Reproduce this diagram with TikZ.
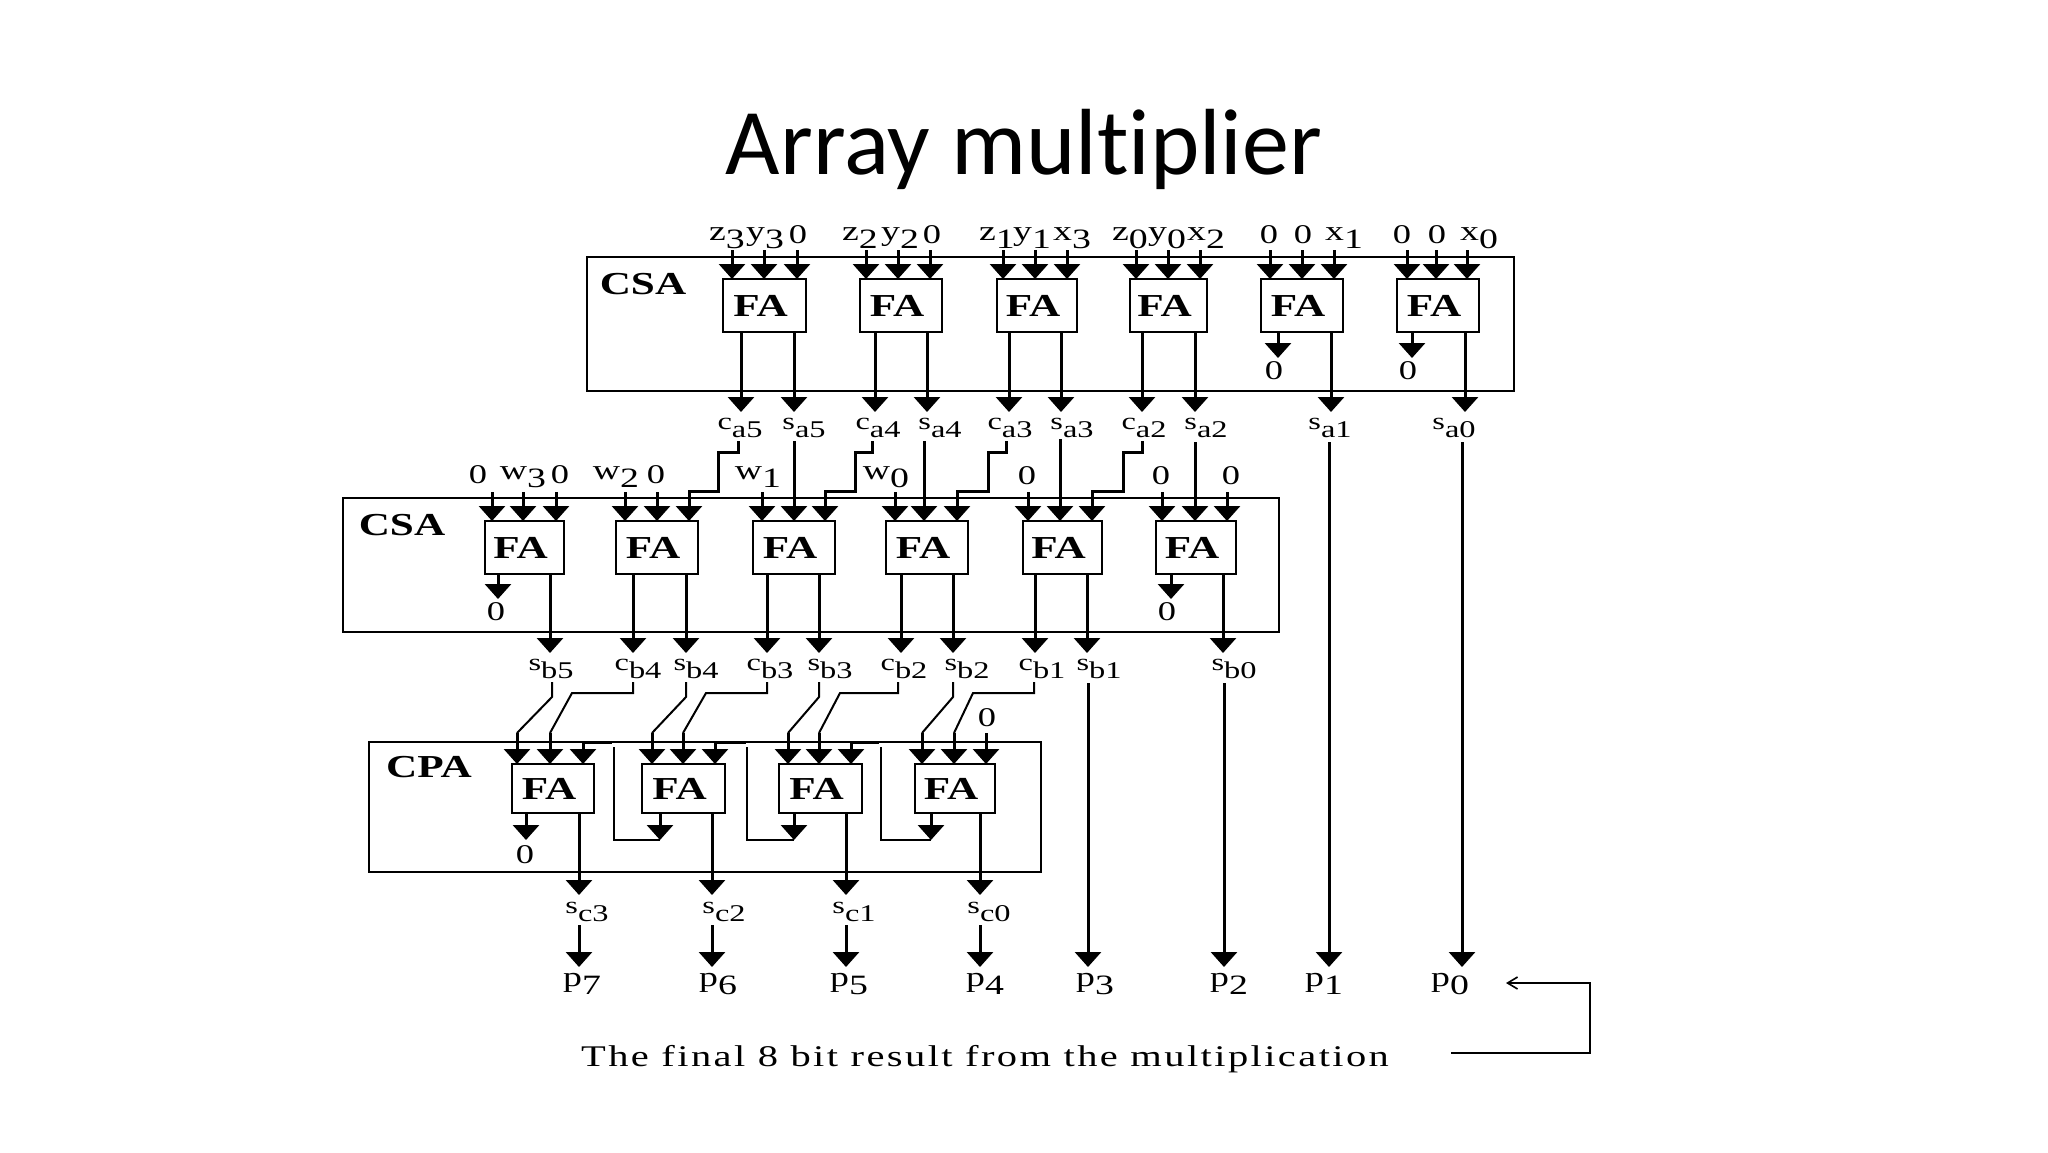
\documentclass[tikz,border=0pt]{standalone}
\usepackage{fontspec}
\setmainfont[Ligatures=NoCommon]{Carlito}
\newfontfamily\bmpserif[FakeStretch=1.35]{Liberation Serif}
\newfontfamily\bmpnote[FakeStretch=1.35,LetterSpace=8]{Liberation Serif}
\usepackage{tikz}
\usetikzlibrary{positioning,arrows.meta}
\newcommand{\sublbl}[2]{#1\raisebox{-4pt}{#2}}
\newcommand{\fatxt}{FA\kern4pt}

\begin{document}
\begin{tikzpicture}[x=0.5pt, y=-0.5pt, font=\bmpserif,
  fa/.style={draw, line width=1.1pt, minimum height=26.5pt, inner sep=0pt, outer sep=0pt, font=\bmpserif\bfseries\fontsize{16}{16}\selectfont},
  frame/.style={draw, line width=1.1pt},
  blockname/.style={inner sep=0pt, font=\bmpserif\bfseries\fontsize{16}{16}\selectfont},
  lbl/.style={inner sep=0pt, font=\bmpserif\fontsize{12}{12}\selectfont},
  lblbig/.style={inner sep=0pt, font=\bmpserif\fontsize{14}{14}\selectfont},
  zr/.style={inner sep=0pt, font=\bmpserif\fontsize{13.5}{13.5}\selectfont},
  arr/.style={-{Triangle[width=13pt,length=7.5pt]}, line width=1.5pt},
  wire/.style={line width=1pt},
  backarr/.style={-{Straight Barb[length=5pt,width=6pt]}, line width=0.8pt}]
\useasboundingbox (0,0) rectangle (2048,1152);
\node[font=\fontsize{47}{47}\selectfont, inner sep=0pt] (title) at (1024,149) {Array multiplier};
% first CSA row
\draw[frame] (587,257) rectangle (1514,391);
\node[blockname] (csa1) at (643,284) {CSA};
\node[fa, anchor=north west, minimum width=41.5pt] (f11) at (723,279) {\fatxt};
\node[fa, right=27pt of f11, minimum width=41pt] (f12) {\fatxt};
\node[fa, right=27.5pt of f12, minimum width=40pt] (f13) {\fatxt};
\node[fa, right=26.5pt of f13, minimum width=38.5pt] (f14) {\fatxt};
\node[fa, right=27pt of f14, minimum width=41pt] (f15) {\fatxt};
\node[fa, right=27pt of f15, minimum width=41pt] (f16) {\fatxt};
% inputs of the first row
\node[lblbig] (z3) at (727,238) {\sublbl{z}{3}};
\node[lblbig] (y3) at (765,238) {\sublbl{y}{3}};
\node[zr] (n11) at (798,235) {0};
\node[lblbig] (z2) at (860,238) {\sublbl{z}{2}};
\node[lblbig] (y2) at (900,238) {\sublbl{y}{2}};
\node[zr] (n12) at (932,235) {0};
\node[lblbig] (z1) at (997,238) {\sublbl{z}{1}};
\node[lblbig] (y1) at (1032,238) {\sublbl{y}{1}};
\node[lblbig] (x3) at (1072,238) {\sublbl{x}{3}};
\node[lblbig] (z0) at (1130,238) {\sublbl{z}{0}};
\node[lblbig] (y0) at (1167,238) {\sublbl{y}{0}};
\node[lblbig] (x2) at (1206,238) {\sublbl{x}{2}};
\node[zr] (n13) at (1269,235) {0};
\node[zr] (n14) at (1303,235) {0};
\node[lblbig] (x1) at (1344,238) {\sublbl{x}{1}};
\node[zr] (n15) at (1402,235) {0};
\node[zr] (n16) at (1437,235) {0};
\node[lblbig] (x0) at (1479,238) {\sublbl{x}{0}};
\coordinate (t11a) at (732,250); \coordinate (t11b) at (764,250); \coordinate (t11c) at (797,250);
\coordinate (t12a) at (866,250); \coordinate (t12b) at (898,250); \coordinate (t12c) at (930,250);
\coordinate (t13a) at (1003,250); \coordinate (t13b) at (1035,250); \coordinate (t13c) at (1067,250);
\coordinate (t14a) at (1136,250); \coordinate (t14b) at (1168,250); \coordinate (t14c) at (1200,250);
\coordinate (t15a) at (1270,250); \coordinate (t15b) at (1302,250); \coordinate (t15c) at (1334,250);
\coordinate (t16a) at (1407,250); \coordinate (t16b) at (1436,250); \coordinate (t16c) at (1467,250);
\draw[arr] (t11a) -- (t11a |- f11.north); \draw[arr] (t11b) -- (t11b |- f11.north); \draw[arr] (t11c) -- (t11c |- f11.north);
\draw[arr] (t12a) -- (t12a |- f12.north); \draw[arr] (t12b) -- (t12b |- f12.north); \draw[arr] (t12c) -- (t12c |- f12.north);
\draw[arr] (t13a) -- (t13a |- f13.north); \draw[arr] (t13b) -- (t13b |- f13.north); \draw[arr] (t13c) -- (t13c |- f13.north);
\draw[arr] (t14a) -- (t14a |- f14.north); \draw[arr] (t14b) -- (t14b |- f14.north); \draw[arr] (t14c) -- (t14c |- f14.north);
\draw[arr] (t15a) -- (t15a |- f15.north); \draw[arr] (t15b) -- (t15b |- f15.north); \draw[arr] (t15c) -- (t15c |- f15.north);
\draw[arr] (t16a) -- (t16a |- f16.north); \draw[arr] (t16b) -- (t16b |- f16.north); \draw[arr] (t16c) -- (t16c |- f16.north);
% outputs of the first row
\coordinate (o11a) at (741,412); \coordinate (o11b) at (794,412);
\coordinate (o12a) at (875,412); \coordinate (o12b) at (927,412);
\coordinate (o13a) at (1009,412); \coordinate (o13b) at (1061,412);
\coordinate (o14a) at (1142,412); \coordinate (o14b) at (1195,412);
\coordinate (o15a) at (1278,358); \coordinate (o15b) at (1331,412);
\coordinate (o16a) at (1412,358); \coordinate (o16b) at (1465,412);
\draw[arr] (o11a |- f11.south) -- (o11a); \draw[arr] (o11b |- f11.south) -- (o11b);
\draw[arr] (o12a |- f12.south) -- (o12a); \draw[arr] (o12b |- f12.south) -- (o12b);
\draw[arr] (o13a |- f13.south) -- (o13a); \draw[arr] (o13b |- f13.south) -- (o13b);
\draw[arr] (o14a |- f14.south) -- (o14a); \draw[arr] (o14b |- f14.south) -- (o14b);
\draw[arr] (o15a |- f15.south) -- (o15a); \draw[arr] (o15b |- f15.south) -- (o15b);
\draw[arr] (o16a |- f16.south) -- (o16a); \draw[arr] (o16b |- f16.south) -- (o16b);
\node[zr] (n17) at (1274,371) {0};
\node[zr] (n18) at (1408,371) {0};
\node[lbl] (ca5) at (740,428) {\sublbl{c}{a5}};
\node[lbl] (sa5) at (804,428) {\sublbl{s}{a5}};
\node[lbl] (ca4) at (878,428) {\sublbl{c}{a4}};
\node[lbl] (sa4) at (940,428) {\sublbl{s}{a4}};
\node[lbl] (ca3) at (1010,428) {\sublbl{c}{a3}};
\node[lbl] (sa3) at (1072,428) {\sublbl{s}{a3}};
\node[lbl] (ca2) at (1144,428) {\sublbl{c}{a2}};
\node[lbl] (sa2) at (1206,428) {\sublbl{s}{a2}};
\node[lbl] (sa1) at (1330,428) {\sublbl{s}{a1}};
\node[lbl] (sa0) at (1454,428) {\sublbl{s}{a0}};
% second CSA row
\draw[frame] (343,498) rectangle (1279,632);
\node[blockname] (csa2) at (402,525) {CSA};
\node[fa, anchor=north west, minimum width=39.5pt] (f21) at (485,521) {\fatxt};
\node[fa, right=26pt of f21, minimum width=41pt] (f22) {\fatxt};
\node[fa, right=27.5pt of f22, minimum width=41pt] (f23) {\fatxt};
\node[fa, right=25.5pt of f23, minimum width=41pt] (f24) {\fatxt};
\node[fa, right=27.5pt of f24, minimum width=39.5pt] (f25) {\fatxt};
\node[fa, right=27pt of f25, minimum width=40pt] (f26) {\fatxt};
\node[zr] (n21) at (478,475) {0};
\node[lblbig] (w3) at (523,477) {\sublbl{w}{3}};
\node[zr] (n22) at (560,475) {0};
\node[lblbig] (w2) at (616,477) {\sublbl{w}{2}};
\node[zr] (n23) at (656,475) {0};
\node[lblbig] (w1) at (758,477) {\sublbl{w}{1}};
\node[lblbig] (w0) at (886,477) {\sublbl{w}{0}};
\node[zr] (n24) at (1027,476) {0};
\node[zr] (n25) at (1161,476) {0};
\node[zr] (n26) at (1231,476) {0};
\coordinate (t21a) at (492,492); \coordinate (t21b) at (523,492); \coordinate (t21c) at (556,492);
\coordinate (t22a) at (625,492); \coordinate (t22b) at (657,492); \coordinate (t22c) at (689,491);
\coordinate (t23a) at (762,492); \coordinate (t23c) at (825,491);
\coordinate (t24a) at (895,492); \coordinate (t24c) at (957,491);
\coordinate (t25a) at (1028,492); \coordinate (t25c) at (1092,491);
\coordinate (t26a) at (1162,492); \coordinate (t26c) at (1227,492);
\draw[arr] (t21a) -- (t21a |- f21.north); \draw[arr] (t21b) -- (t21b |- f21.north); \draw[arr] (t21c) -- (t21c |- f21.north);
\draw[arr] (t22a) -- (t22a |- f22.north); \draw[arr] (t22b) -- (t22b |- f22.north);
\draw[arr] (t23a) -- (t23a |- f23.north);
\draw[arr] (t24a) -- (t24a |- f24.north);
\draw[arr] (t25a) -- (t25a |- f25.north);
\draw[arr] (t26a) -- (t26a |- f26.north); \draw[arr] (t26c) -- (t26c |- f26.north);
% carries and sums from the first row
\coordinate (wca5) at (738,441); \coordinate (wca4) at (872,441); \coordinate (wca3) at (1006,441); \coordinate (wca2) at (1142,441);
\coordinate (wsa5) at (794,441); \coordinate (wsa4) at (924,441); \coordinate (wsa3) at (1060,439); \coordinate (wsa2) at (1195,442);
\draw[arr] (wca5) -- ++(0,11) -- ++(-20,0) -- ++(0,39) -- (t22c) -- (t22c |- f22.north);
\draw[arr] (wca4) -- ++(0,11) -- ++(-17,0) -- ++(0,39) -- (t23c) -- (t23c |- f23.north);
\draw[arr] (wca3) -- ++(0,11) -- ++(-18,0) -- ++(0,39) -- (t24c) -- (t24c |- f24.north);
\draw[arr] (wca2) -- ++(0,11) -- ++(-19,0) -- ++(0,39) -- (t25c) -- (t25c |- f25.north);
\draw[arr] (wsa5) -- (wsa5 |- f23.north);
\draw[arr] (wsa4) -- (wsa4 |- f24.north);
\draw[arr] (wsa3) -- (wsa3 |- f25.north);
\draw[arr] (wsa2) -- (wsa2 |- f26.north);
% outputs of the second row
\coordinate (o21a) at (498,599); \coordinate (o21b) at (550,653);
\coordinate (o22a) at (633,653); \coordinate (o22b) at (686,653);
\coordinate (o23a) at (767,653); \coordinate (o23b) at (819,653);
\coordinate (o24a) at (901,653); \coordinate (o24b) at (953,653);
\coordinate (o25a) at (1035,653); \coordinate (o25b) at (1087,653);
\coordinate (o26a) at (1171,599); \coordinate (o26b) at (1223,653);
\draw[arr] (o21a |- f21.south) -- (o21a); \draw[arr] (o21b |- f21.south) -- (o21b);
\draw[arr] (o22a |- f22.south) -- (o22a); \draw[arr] (o22b |- f22.south) -- (o22b);
\draw[arr] (o23a |- f23.south) -- (o23a); \draw[arr] (o23b |- f23.south) -- (o23b);
\draw[arr] (o24a |- f24.south) -- (o24a); \draw[arr] (o24b |- f24.south) -- (o24b);
\draw[arr] (o25a |- f25.south) -- (o25a); \draw[arr] (o25b |- f25.south) -- (o25b);
\draw[arr] (o26a |- f26.south) -- (o26a); \draw[arr] (o26b |- f26.south) -- (o26b);
\node[zr] (n27) at (496,612) {0};
\node[zr] (n28) at (1167,612) {0};
\node[lbl] (sb5) at (551,669) {\sublbl{s}{b5}};
\node[lbl] (cb4) at (638,669) {\sublbl{c}{b4}};
\node[lbl] (sb4) at (696,669) {\sublbl{s}{b4}};
\node[lbl] (cb3) at (770,669) {\sublbl{c}{b3}};
\node[lbl] (sb3) at (830,669) {\sublbl{s}{b3}};
\node[lbl] (cb2) at (904,669) {\sublbl{c}{b2}};
\node[lbl] (sb2) at (967,669) {\sublbl{s}{b2}};
\node[lbl] (cb1) at (1042,669) {\sublbl{c}{b1}};
\node[lbl] (sb1) at (1099,669) {\sublbl{s}{b1}};
\node[lbl] (sb0) at (1234,669) {\sublbl{s}{b0}};
% CPA row
\draw[frame] (369,742) rectangle (1041,872);
\node[blockname] (cpa) at (429,767) {CPA};
\node[fa, anchor=north west, minimum width=41pt, minimum height=24.5pt] (f31) at (512,764) {\fatxt};
\node[fa, right=24pt of f31, minimum width=41.5pt, minimum height=24.5pt] (f32) {\fatxt};
\node[fa, right=27pt of f32, minimum width=41.5pt, minimum height=24.5pt] (f33) {\fatxt};
\node[fa, right=26.5pt of f33, minimum width=40pt, minimum height=24.5pt] (f34) {\fatxt};
\node[zr] (n31) at (987,718) {0};
\coordinate (t31a) at (517,733); \coordinate (t31b) at (550,733); \coordinate (t31c) at (583,743);
\coordinate (t32a) at (652,733); \coordinate (t32b) at (683,733); \coordinate (t32c) at (715,743);
\coordinate (t33a) at (788,733); \coordinate (t33b) at (819,733); \coordinate (t33c) at (851,743);
\coordinate (t34a) at (922,733); \coordinate (t34b) at (954,733); \coordinate (t34c) at (986,733);
\draw[arr] (t31a) -- (t31a |- f31.north); \draw[arr] (t31b) -- (t31b |- f31.north); \draw[arr] (t31c) -- (t31c |- f31.north);
\draw[arr] (t32a) -- (t32a |- f32.north); \draw[arr] (t32b) -- (t32b |- f32.north); \draw[arr] (t32c) -- (t32c |- f32.north);
\draw[arr] (t33a) -- (t33a |- f33.north); \draw[arr] (t33b) -- (t33b |- f33.north); \draw[arr] (t33c) -- (t33c |- f33.north);
\draw[arr] (t34a) -- (t34a |- f34.north); \draw[arr] (t34b) -- (t34b |- f34.north); \draw[arr] (t34c) -- (t34c |- f34.north);
% sums and carries from the second row
\coordinate (wsb5) at (552,682); \coordinate (wcb4) at (633,682); \coordinate (wsb4) at (686,682); \coordinate (wcb3) at (767,682);
\coordinate (wsb3) at (819,682); \coordinate (wcb2) at (898,682); \coordinate (wsb2) at (953,682); \coordinate (wcb1) at (1034,682);
\draw[wire] (wsb5) -- ++(0,15) -- (t31a);
\draw[wire] (wcb4) -- ++(0,11) -- ++(-61,0) -- (t31b);
\draw[wire] (wsb4) -- ++(0,15) -- (t32a);
\draw[wire] (wcb3) -- ++(0,11) -- ++(-61,0) -- (t32b);
\draw[wire] (wsb3) -- ++(0,15) -- (t33a);
\draw[wire] (wcb2) -- ++(0,11) -- ++(-58,0) -- (t33b);
\draw[wire] (wsb2) -- ++(0,15) -- (t34a);
\draw[wire] (wcb1) -- ++(0,11) -- ++(-61,0) -- (t34b);
% carry chain of the CPA
\coordinate (o31a) at (526,840); \coordinate (o32a) at (660,840); \coordinate (o33a) at (794,840); \coordinate (o34a) at (931,840);
\draw[arr] (o31a |- f31.south) -- (o31a);
\draw[arr] (o32a |- f32.south) -- (o32a);
\draw[arr] (o33a |- f33.south) -- (o33a);
\draw[arr] (o34a |- f34.south) -- (o34a);
\node[zr] (n32) at (525,855) {0};
\draw[wire] (o32a) -- ++(-46,0) -- ++(0,-93); \draw[wire] (t31c) -- ++(29,0);
\draw[wire] (o33a) -- ++(-47,0) -- ++(0,-93); \draw[wire] (t32c) -- ++(31,0);
\draw[wire] (o34a) -- ++(-50,0) -- ++(0,-93); \draw[wire] (t33c) -- ++(28,0);
% outputs of the CPA
\coordinate (o31b) at (579,895); \coordinate (o32b) at (712,895); \coordinate (o33b) at (846,895); \coordinate (o34b) at (980,895);
\draw[arr] (o31b |- f31.south) -- (o31b);
\draw[arr] (o32b |- f32.south) -- (o32b);
\draw[arr] (o33b |- f33.south) -- (o33b);
\draw[arr] (o34b |- f34.south) -- (o34b);
\node[lbl] (sc3) at (587,912) {\sublbl{s}{c3}};
\node[lbl] (sc2) at (724,912) {\sublbl{s}{c2}};
\node[lbl] (sc1) at (854,912) {\sublbl{s}{c1}};
\node[lbl] (sc0) at (989,912) {\sublbl{s}{c0}};
% final result
\node[lblbig] (p7) at (582,984) {\sublbl{p}{7}};
\node[lblbig] (p6) at (718,984) {\sublbl{p}{6}};
\node[lblbig] (p5) at (849,984) {\sublbl{p}{5}};
\node[lblbig] (p4) at (985,984) {\sublbl{p}{4}};
\node[lblbig] (p3) at (1095,984) {\sublbl{p}{3}};
\node[lblbig] (p2) at (1229,984) {\sublbl{p}{2}};
\node[lblbig] (p1) at (1324,984) {\sublbl{p}{1}};
\node[lblbig] (p0) at (1450,984) {\sublbl{p}{0}};
\coordinate (q7a) at (579,925); \coordinate (q6a) at (712,925); \coordinate (q5a) at (846,925); \coordinate (q4a) at (980,925);
\coordinate (q7) at (579,967); \coordinate (q6) at (712,967); \coordinate (q5) at (846,967); \coordinate (q4) at (980,967);
\coordinate (q3a) at (1088,683); \coordinate (q2a) at (1224,683); \coordinate (q1a) at (1329,442); \coordinate (q0a) at (1462,442);
\coordinate (q3) at (1088,967); \coordinate (q2) at (1224,967); \coordinate (q1) at (1329,967); \coordinate (q0) at (1462,967);
\draw[arr] (q7a) -- (q7); \draw[arr] (q6a) -- (q6); \draw[arr] (q5a) -- (q5); \draw[arr] (q4a) -- (q4);
\draw[arr] (q3a) -- (q3); \draw[arr] (q2a) -- (q2); \draw[arr] (q1a) -- (q1); \draw[arr] (q0a) -- (q0);
\node[inner sep=0pt, font=\bmpnote\fontsize{15}{15}\selectfont] (res) at (985,1059) {The final 8 bit result from the multiplication};
\coordinate (rstart) at (1451,1053); \coordinate (rend) at (1506,983);
\draw[backarr] (rstart) -| (1590,983) -- (rend);
\end{tikzpicture}
\end{document}
